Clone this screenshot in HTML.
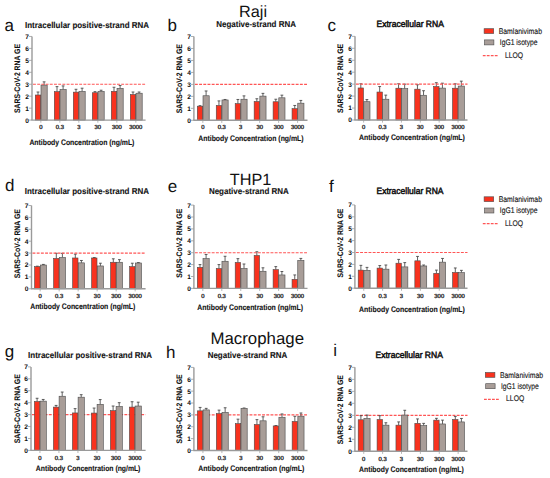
<!DOCTYPE html>
<html><head><meta charset="utf-8"><style>
html,body{margin:0;padding:0;background:#fff;width:550px;height:478px;overflow:hidden}
svg{display:block}
text{font-family:"Liberation Sans", sans-serif;text-rendering:geometricPrecision}
</style></head><body>
<svg width="550" height="478" viewBox="0 0 550 478">
<rect width="550" height="478" fill="#fff"/>
<g>
<line x1="38.00" y1="92.02" x2="38.00" y2="95.00" stroke="#505050" stroke-width="0.9"/>
<line x1="36.60" y1="92.02" x2="39.40" y2="92.02" stroke="#4a4a4a" stroke-width="0.9"/>
<line x1="44.10" y1="81.86" x2="44.10" y2="85.09" stroke="#505050" stroke-width="0.9"/>
<line x1="42.70" y1="81.86" x2="45.50" y2="81.86" stroke="#4a4a4a" stroke-width="0.9"/>
<rect x="35.30" y="95.00" width="5.4" height="25.09" fill="#f8321e" stroke="#4a4a4a" stroke-width="0.6"/>
<rect x="41.00" y="85.09" width="6.2" height="35.01" fill="#a89d98" stroke="#4a4a4a" stroke-width="0.6"/>
<line x1="40.85" y1="120.10" x2="40.85" y2="122.70" stroke="#9a9a9a" stroke-width="0.7"/>
<text x="40.85" y="129.40" font-size="5.9" stroke="#111" stroke-width="0.3" text-anchor="middle" fill="#111">0</text>
<line x1="57.00" y1="86.64" x2="57.00" y2="91.66" stroke="#505050" stroke-width="0.9"/>
<line x1="55.60" y1="86.64" x2="58.40" y2="86.64" stroke="#4a4a4a" stroke-width="0.9"/>
<line x1="63.10" y1="85.92" x2="63.10" y2="89.51" stroke="#505050" stroke-width="0.9"/>
<line x1="61.70" y1="85.92" x2="64.50" y2="85.92" stroke="#4a4a4a" stroke-width="0.9"/>
<rect x="54.30" y="91.66" width="5.4" height="28.44" fill="#f8321e" stroke="#4a4a4a" stroke-width="0.6"/>
<rect x="60.00" y="89.51" width="6.2" height="30.59" fill="#a89d98" stroke="#4a4a4a" stroke-width="0.6"/>
<line x1="59.85" y1="120.10" x2="59.85" y2="122.70" stroke="#9a9a9a" stroke-width="0.7"/>
<text x="59.85" y="129.40" font-size="5.9" stroke="#111" stroke-width="0.3" text-anchor="middle" fill="#111">0.3</text>
<line x1="76.00" y1="89.27" x2="76.00" y2="92.14" stroke="#505050" stroke-width="0.9"/>
<line x1="74.60" y1="89.27" x2="77.40" y2="89.27" stroke="#4a4a4a" stroke-width="0.9"/>
<line x1="82.10" y1="88.19" x2="82.10" y2="91.42" stroke="#505050" stroke-width="0.9"/>
<line x1="80.70" y1="88.19" x2="83.50" y2="88.19" stroke="#4a4a4a" stroke-width="0.9"/>
<rect x="73.30" y="92.14" width="5.4" height="27.96" fill="#f8321e" stroke="#4a4a4a" stroke-width="0.6"/>
<rect x="79.00" y="91.42" width="6.2" height="28.68" fill="#a89d98" stroke="#4a4a4a" stroke-width="0.6"/>
<line x1="78.85" y1="120.10" x2="78.85" y2="122.70" stroke="#9a9a9a" stroke-width="0.7"/>
<text x="78.85" y="129.40" font-size="5.9" stroke="#111" stroke-width="0.3" text-anchor="middle" fill="#111">3</text>
<line x1="95.00" y1="91.66" x2="95.00" y2="92.73" stroke="#505050" stroke-width="0.9"/>
<line x1="93.60" y1="91.66" x2="96.40" y2="91.66" stroke="#4a4a4a" stroke-width="0.9"/>
<line x1="101.10" y1="90.22" x2="101.10" y2="91.42" stroke="#505050" stroke-width="0.9"/>
<line x1="99.70" y1="90.22" x2="102.50" y2="90.22" stroke="#4a4a4a" stroke-width="0.9"/>
<rect x="92.30" y="92.73" width="5.4" height="27.37" fill="#f8321e" stroke="#4a4a4a" stroke-width="0.6"/>
<rect x="98.00" y="91.42" width="6.2" height="28.68" fill="#a89d98" stroke="#4a4a4a" stroke-width="0.6"/>
<line x1="97.85" y1="120.10" x2="97.85" y2="122.70" stroke="#9a9a9a" stroke-width="0.7"/>
<text x="97.85" y="129.40" font-size="5.9" stroke="#111" stroke-width="0.3" text-anchor="middle" fill="#111">30</text>
<line x1="114.00" y1="87.24" x2="114.00" y2="91.30" stroke="#505050" stroke-width="0.9"/>
<line x1="112.60" y1="87.24" x2="115.40" y2="87.24" stroke="#4a4a4a" stroke-width="0.9"/>
<line x1="120.10" y1="85.44" x2="120.10" y2="88.31" stroke="#505050" stroke-width="0.9"/>
<line x1="118.70" y1="85.44" x2="121.50" y2="85.44" stroke="#4a4a4a" stroke-width="0.9"/>
<rect x="111.30" y="91.30" width="5.4" height="28.80" fill="#f8321e" stroke="#4a4a4a" stroke-width="0.6"/>
<rect x="117.00" y="88.31" width="6.2" height="31.79" fill="#a89d98" stroke="#4a4a4a" stroke-width="0.6"/>
<line x1="116.85" y1="120.10" x2="116.85" y2="122.70" stroke="#9a9a9a" stroke-width="0.7"/>
<text x="116.85" y="129.40" font-size="5.9" stroke="#111" stroke-width="0.3" text-anchor="middle" fill="#111">300</text>
<line x1="133.00" y1="92.02" x2="133.00" y2="94.53" stroke="#505050" stroke-width="0.9"/>
<line x1="131.60" y1="92.02" x2="134.40" y2="92.02" stroke="#4a4a4a" stroke-width="0.9"/>
<line x1="139.10" y1="92.02" x2="139.10" y2="93.21" stroke="#505050" stroke-width="0.9"/>
<line x1="137.70" y1="92.02" x2="140.50" y2="92.02" stroke="#4a4a4a" stroke-width="0.9"/>
<rect x="130.30" y="94.53" width="5.4" height="25.57" fill="#f8321e" stroke="#4a4a4a" stroke-width="0.6"/>
<rect x="136.00" y="93.21" width="6.2" height="26.89" fill="#a89d98" stroke="#4a4a4a" stroke-width="0.6"/>
<line x1="135.85" y1="120.10" x2="135.85" y2="122.70" stroke="#9a9a9a" stroke-width="0.7"/>
<text x="135.85" y="129.40" font-size="5.9" stroke="#111" stroke-width="0.3" text-anchor="middle" fill="#111">3000</text>
<line x1="33.00" y1="84.25" x2="145.60" y2="84.25" stroke="#ff5555" stroke-width="1.1" stroke-dasharray="2.9 1.3"/>
<line x1="32.00" y1="36.45" x2="32.00" y2="120.10" stroke="#9a9a9a" stroke-width="1.4"/>
<line x1="31.40" y1="120.10" x2="145.60" y2="120.10" stroke="#9a9a9a" stroke-width="1.4"/>
<line x1="29.00" y1="120.10" x2="32.00" y2="120.10" stroke="#9a9a9a" stroke-width="0.8"/>
<text x="29.00" y="122.50" font-size="6.6" font-weight="bold" text-anchor="end" fill="#111">0</text>
<line x1="29.00" y1="108.15" x2="32.00" y2="108.15" stroke="#9a9a9a" stroke-width="0.8"/>
<text x="29.00" y="110.55" font-size="6.6" font-weight="bold" text-anchor="end" fill="#111">1</text>
<line x1="29.00" y1="96.20" x2="32.00" y2="96.20" stroke="#9a9a9a" stroke-width="0.8"/>
<text x="29.00" y="98.60" font-size="6.6" font-weight="bold" text-anchor="end" fill="#111">2</text>
<line x1="29.00" y1="84.25" x2="32.00" y2="84.25" stroke="#9a9a9a" stroke-width="0.8"/>
<text x="29.00" y="86.65" font-size="6.6" font-weight="bold" text-anchor="end" fill="#111">3</text>
<line x1="29.00" y1="72.30" x2="32.00" y2="72.30" stroke="#9a9a9a" stroke-width="0.8"/>
<text x="29.00" y="74.70" font-size="6.6" font-weight="bold" text-anchor="end" fill="#111">4</text>
<line x1="29.00" y1="60.35" x2="32.00" y2="60.35" stroke="#9a9a9a" stroke-width="0.8"/>
<text x="29.00" y="62.75" font-size="6.6" font-weight="bold" text-anchor="end" fill="#111">5</text>
<line x1="29.00" y1="48.40" x2="32.00" y2="48.40" stroke="#9a9a9a" stroke-width="0.8"/>
<text x="29.00" y="50.80" font-size="6.6" font-weight="bold" text-anchor="end" fill="#111">6</text>
<line x1="29.00" y1="36.45" x2="32.00" y2="36.45" stroke="#9a9a9a" stroke-width="0.8"/>
<text x="29.00" y="38.85" font-size="6.6" font-weight="bold" text-anchor="end" fill="#111">7</text>
<text transform="translate(19.70,78.50) rotate(-90)" x="0" y="0" font-size="8.0" font-weight="bold" stroke="#111" stroke-width="0.1" text-anchor="middle" textLength="69" lengthAdjust="spacingAndGlyphs" fill="#111">SARS-CoV-2 RNA GE</text>
<text x="25.0" y="27.7" font-size="8.5" font-weight="bold" stroke="#111" stroke-width="0.1" textLength="124" lengthAdjust="spacingAndGlyphs" fill="#111">Intracellular positive-strand RNA</text>
<text x="4.4" y="31.0" font-size="17" fill="#111">a</text>
<text x="29.4" y="144.5" font-size="8.0" font-weight="bold" stroke="#111" stroke-width="0.12" textLength="105.0" lengthAdjust="spacingAndGlyphs" fill="#111">Antibody Concentration (ng/mL)</text>
</g>
<g>
<line x1="200.00" y1="105.70" x2="200.00" y2="106.18" stroke="#505050" stroke-width="0.9"/>
<line x1="198.60" y1="105.70" x2="201.40" y2="105.70" stroke="#4a4a4a" stroke-width="0.9"/>
<line x1="206.10" y1="90.97" x2="206.10" y2="95.76" stroke="#505050" stroke-width="0.9"/>
<line x1="204.70" y1="90.97" x2="207.50" y2="90.97" stroke="#4a4a4a" stroke-width="0.9"/>
<rect x="197.30" y="106.18" width="5.4" height="14.12" fill="#f8321e" stroke="#4a4a4a" stroke-width="0.6"/>
<rect x="203.00" y="95.76" width="6.2" height="24.54" fill="#a89d98" stroke="#4a4a4a" stroke-width="0.6"/>
<line x1="202.85" y1="120.30" x2="202.85" y2="122.90" stroke="#9a9a9a" stroke-width="0.7"/>
<text x="202.85" y="129.20" font-size="5.9" stroke="#111" stroke-width="0.3" text-anchor="middle" fill="#111">0</text>
<line x1="218.95" y1="100.91" x2="218.95" y2="105.46" stroke="#505050" stroke-width="0.9"/>
<line x1="217.55" y1="100.91" x2="220.35" y2="100.91" stroke="#4a4a4a" stroke-width="0.9"/>
<line x1="225.05" y1="99.47" x2="225.05" y2="99.95" stroke="#505050" stroke-width="0.9"/>
<line x1="223.65" y1="99.47" x2="226.45" y2="99.47" stroke="#4a4a4a" stroke-width="0.9"/>
<rect x="216.25" y="105.46" width="5.4" height="14.84" fill="#f8321e" stroke="#4a4a4a" stroke-width="0.6"/>
<rect x="221.95" y="99.95" width="6.2" height="20.35" fill="#a89d98" stroke="#4a4a4a" stroke-width="0.6"/>
<line x1="221.80" y1="120.30" x2="221.80" y2="122.90" stroke="#9a9a9a" stroke-width="0.7"/>
<text x="221.80" y="129.20" font-size="5.9" stroke="#111" stroke-width="0.3" text-anchor="middle" fill="#111">0.3</text>
<line x1="237.90" y1="99.47" x2="237.90" y2="103.66" stroke="#505050" stroke-width="0.9"/>
<line x1="236.50" y1="99.47" x2="239.30" y2="99.47" stroke="#4a4a4a" stroke-width="0.9"/>
<line x1="244.00" y1="95.88" x2="244.00" y2="99.23" stroke="#505050" stroke-width="0.9"/>
<line x1="242.60" y1="95.88" x2="245.40" y2="95.88" stroke="#4a4a4a" stroke-width="0.9"/>
<rect x="235.20" y="103.66" width="5.4" height="16.64" fill="#f8321e" stroke="#4a4a4a" stroke-width="0.6"/>
<rect x="240.90" y="99.23" width="6.2" height="21.07" fill="#a89d98" stroke="#4a4a4a" stroke-width="0.6"/>
<line x1="240.75" y1="120.30" x2="240.75" y2="122.90" stroke="#9a9a9a" stroke-width="0.7"/>
<text x="240.75" y="129.20" font-size="5.9" stroke="#111" stroke-width="0.3" text-anchor="middle" fill="#111">3</text>
<line x1="256.85" y1="98.75" x2="256.85" y2="101.51" stroke="#505050" stroke-width="0.9"/>
<line x1="255.45" y1="98.75" x2="258.25" y2="98.75" stroke="#4a4a4a" stroke-width="0.9"/>
<line x1="262.95" y1="93.37" x2="262.95" y2="96.12" stroke="#505050" stroke-width="0.9"/>
<line x1="261.55" y1="93.37" x2="264.35" y2="93.37" stroke="#4a4a4a" stroke-width="0.9"/>
<rect x="254.15" y="101.51" width="5.4" height="18.79" fill="#f8321e" stroke="#4a4a4a" stroke-width="0.6"/>
<rect x="259.85" y="96.12" width="6.2" height="24.18" fill="#a89d98" stroke="#4a4a4a" stroke-width="0.6"/>
<line x1="259.70" y1="120.30" x2="259.70" y2="122.90" stroke="#9a9a9a" stroke-width="0.7"/>
<text x="259.70" y="129.20" font-size="5.9" stroke="#111" stroke-width="0.3" text-anchor="middle" fill="#111">30</text>
<line x1="275.80" y1="99.23" x2="275.80" y2="101.75" stroke="#505050" stroke-width="0.9"/>
<line x1="274.40" y1="99.23" x2="277.20" y2="99.23" stroke="#4a4a4a" stroke-width="0.9"/>
<line x1="281.90" y1="95.16" x2="281.90" y2="97.80" stroke="#505050" stroke-width="0.9"/>
<line x1="280.50" y1="95.16" x2="283.30" y2="95.16" stroke="#4a4a4a" stroke-width="0.9"/>
<rect x="273.10" y="101.75" width="5.4" height="18.55" fill="#f8321e" stroke="#4a4a4a" stroke-width="0.6"/>
<rect x="278.80" y="97.80" width="6.2" height="22.50" fill="#a89d98" stroke="#4a4a4a" stroke-width="0.6"/>
<line x1="278.65" y1="120.30" x2="278.65" y2="122.90" stroke="#9a9a9a" stroke-width="0.7"/>
<text x="278.65" y="129.20" font-size="5.9" stroke="#111" stroke-width="0.3" text-anchor="middle" fill="#111">300</text>
<line x1="294.75" y1="105.46" x2="294.75" y2="108.69" stroke="#505050" stroke-width="0.9"/>
<line x1="293.35" y1="105.46" x2="296.15" y2="105.46" stroke="#4a4a4a" stroke-width="0.9"/>
<line x1="300.85" y1="100.43" x2="300.85" y2="103.18" stroke="#505050" stroke-width="0.9"/>
<line x1="299.45" y1="100.43" x2="302.25" y2="100.43" stroke="#4a4a4a" stroke-width="0.9"/>
<rect x="292.05" y="108.69" width="5.4" height="11.61" fill="#f8321e" stroke="#4a4a4a" stroke-width="0.6"/>
<rect x="297.75" y="103.18" width="6.2" height="17.12" fill="#a89d98" stroke="#4a4a4a" stroke-width="0.6"/>
<line x1="297.60" y1="120.30" x2="297.60" y2="122.90" stroke="#9a9a9a" stroke-width="0.7"/>
<text x="297.60" y="129.20" font-size="5.9" stroke="#111" stroke-width="0.3" text-anchor="middle" fill="#111">3000</text>
<line x1="194.90" y1="84.39" x2="307.50" y2="84.39" stroke="#ff5555" stroke-width="1.1" stroke-dasharray="2.9 1.3"/>
<line x1="193.90" y1="36.51" x2="193.90" y2="120.30" stroke="#9a9a9a" stroke-width="1.4"/>
<line x1="193.30" y1="120.30" x2="307.50" y2="120.30" stroke="#9a9a9a" stroke-width="1.4"/>
<line x1="190.90" y1="120.30" x2="193.90" y2="120.30" stroke="#9a9a9a" stroke-width="0.8"/>
<text x="190.90" y="122.70" font-size="6.6" font-weight="bold" text-anchor="end" fill="#111">0</text>
<line x1="190.90" y1="108.33" x2="193.90" y2="108.33" stroke="#9a9a9a" stroke-width="0.8"/>
<text x="190.90" y="110.73" font-size="6.6" font-weight="bold" text-anchor="end" fill="#111">1</text>
<line x1="190.90" y1="96.36" x2="193.90" y2="96.36" stroke="#9a9a9a" stroke-width="0.8"/>
<text x="190.90" y="98.76" font-size="6.6" font-weight="bold" text-anchor="end" fill="#111">2</text>
<line x1="190.90" y1="84.39" x2="193.90" y2="84.39" stroke="#9a9a9a" stroke-width="0.8"/>
<text x="190.90" y="86.79" font-size="6.6" font-weight="bold" text-anchor="end" fill="#111">3</text>
<line x1="190.90" y1="72.42" x2="193.90" y2="72.42" stroke="#9a9a9a" stroke-width="0.8"/>
<text x="190.90" y="74.82" font-size="6.6" font-weight="bold" text-anchor="end" fill="#111">4</text>
<line x1="190.90" y1="60.45" x2="193.90" y2="60.45" stroke="#9a9a9a" stroke-width="0.8"/>
<text x="190.90" y="62.85" font-size="6.6" font-weight="bold" text-anchor="end" fill="#111">5</text>
<line x1="190.90" y1="48.48" x2="193.90" y2="48.48" stroke="#9a9a9a" stroke-width="0.8"/>
<text x="190.90" y="50.88" font-size="6.6" font-weight="bold" text-anchor="end" fill="#111">6</text>
<line x1="190.90" y1="36.51" x2="193.90" y2="36.51" stroke="#9a9a9a" stroke-width="0.8"/>
<text x="190.90" y="38.91" font-size="6.6" font-weight="bold" text-anchor="end" fill="#111">7</text>
<text transform="translate(181.90,78.70) rotate(-90)" x="0" y="0" font-size="8.0" font-weight="bold" stroke="#111" stroke-width="0.1" text-anchor="middle" textLength="69" lengthAdjust="spacingAndGlyphs" fill="#111">SARS-CoV-2 RNA GE</text>
<text x="216.3" y="27.4" font-size="8.5" font-weight="bold" stroke="#111" stroke-width="0.1" textLength="79.6" lengthAdjust="spacingAndGlyphs" fill="#111">Negative-strand RNA</text>
<text x="167.6" y="30.7" font-size="17" fill="#111">b</text>
<text x="198.3" y="141.0" font-size="8.0" font-weight="bold" stroke="#111" stroke-width="0.12" textLength="105.2" lengthAdjust="spacingAndGlyphs" fill="#111">Antibody Concentration (ng/mL)</text>
</g>
<g>
<line x1="360.80" y1="83.79" x2="360.80" y2="87.97" stroke="#505050" stroke-width="0.9"/>
<line x1="359.40" y1="83.79" x2="362.20" y2="83.79" stroke="#4a4a4a" stroke-width="0.9"/>
<line x1="366.90" y1="99.57" x2="366.90" y2="101.72" stroke="#505050" stroke-width="0.9"/>
<line x1="365.50" y1="99.57" x2="368.30" y2="99.57" stroke="#4a4a4a" stroke-width="0.9"/>
<rect x="358.10" y="87.97" width="5.4" height="32.03" fill="#f8321e" stroke="#4a4a4a" stroke-width="0.6"/>
<rect x="363.80" y="101.72" width="6.2" height="18.28" fill="#a89d98" stroke="#4a4a4a" stroke-width="0.6"/>
<line x1="363.65" y1="120.00" x2="363.65" y2="122.60" stroke="#9a9a9a" stroke-width="0.7"/>
<text x="363.65" y="129.00" font-size="5.9" stroke="#111" stroke-width="0.3" text-anchor="middle" fill="#111">0</text>
<line x1="379.68" y1="86.54" x2="379.68" y2="92.04" stroke="#505050" stroke-width="0.9"/>
<line x1="378.28" y1="86.54" x2="381.08" y2="86.54" stroke="#4a4a4a" stroke-width="0.9"/>
<line x1="385.78" y1="95.14" x2="385.78" y2="99.21" stroke="#505050" stroke-width="0.9"/>
<line x1="384.38" y1="95.14" x2="387.18" y2="95.14" stroke="#4a4a4a" stroke-width="0.9"/>
<rect x="376.98" y="92.04" width="5.4" height="27.96" fill="#f8321e" stroke="#4a4a4a" stroke-width="0.6"/>
<rect x="382.68" y="99.21" width="6.2" height="20.79" fill="#a89d98" stroke="#4a4a4a" stroke-width="0.6"/>
<line x1="382.53" y1="120.00" x2="382.53" y2="122.60" stroke="#9a9a9a" stroke-width="0.7"/>
<text x="382.53" y="129.00" font-size="5.9" stroke="#111" stroke-width="0.3" text-anchor="middle" fill="#111">0.3</text>
<line x1="398.56" y1="83.79" x2="398.56" y2="88.21" stroke="#505050" stroke-width="0.9"/>
<line x1="397.16" y1="83.79" x2="399.96" y2="83.79" stroke="#4a4a4a" stroke-width="0.9"/>
<line x1="404.66" y1="84.15" x2="404.66" y2="88.69" stroke="#505050" stroke-width="0.9"/>
<line x1="403.26" y1="84.15" x2="406.06" y2="84.15" stroke="#4a4a4a" stroke-width="0.9"/>
<rect x="395.86" y="88.21" width="5.4" height="31.79" fill="#f8321e" stroke="#4a4a4a" stroke-width="0.6"/>
<rect x="401.56" y="88.69" width="6.2" height="31.31" fill="#a89d98" stroke="#4a4a4a" stroke-width="0.6"/>
<line x1="401.41" y1="120.00" x2="401.41" y2="122.60" stroke="#9a9a9a" stroke-width="0.7"/>
<text x="401.41" y="129.00" font-size="5.9" stroke="#111" stroke-width="0.3" text-anchor="middle" fill="#111">3</text>
<line x1="417.44" y1="84.75" x2="417.44" y2="89.17" stroke="#505050" stroke-width="0.9"/>
<line x1="416.04" y1="84.75" x2="418.84" y2="84.75" stroke="#4a4a4a" stroke-width="0.9"/>
<line x1="423.54" y1="90.72" x2="423.54" y2="95.26" stroke="#505050" stroke-width="0.9"/>
<line x1="422.14" y1="90.72" x2="424.94" y2="90.72" stroke="#4a4a4a" stroke-width="0.9"/>
<rect x="414.74" y="89.17" width="5.4" height="30.83" fill="#f8321e" stroke="#4a4a4a" stroke-width="0.6"/>
<rect x="420.44" y="95.26" width="6.2" height="24.74" fill="#a89d98" stroke="#4a4a4a" stroke-width="0.6"/>
<line x1="420.29" y1="120.00" x2="420.29" y2="122.60" stroke="#9a9a9a" stroke-width="0.7"/>
<text x="420.29" y="129.00" font-size="5.9" stroke="#111" stroke-width="0.3" text-anchor="middle" fill="#111">30</text>
<line x1="436.32" y1="82.72" x2="436.32" y2="86.54" stroke="#505050" stroke-width="0.9"/>
<line x1="434.92" y1="82.72" x2="437.72" y2="82.72" stroke="#4a4a4a" stroke-width="0.9"/>
<line x1="442.42" y1="83.19" x2="442.42" y2="88.09" stroke="#505050" stroke-width="0.9"/>
<line x1="441.02" y1="83.19" x2="443.82" y2="83.19" stroke="#4a4a4a" stroke-width="0.9"/>
<rect x="433.62" y="86.54" width="5.4" height="33.46" fill="#f8321e" stroke="#4a4a4a" stroke-width="0.6"/>
<rect x="439.32" y="88.09" width="6.2" height="31.91" fill="#a89d98" stroke="#4a4a4a" stroke-width="0.6"/>
<line x1="439.17" y1="120.00" x2="439.17" y2="122.60" stroke="#9a9a9a" stroke-width="0.7"/>
<text x="439.17" y="129.00" font-size="5.9" stroke="#111" stroke-width="0.3" text-anchor="middle" fill="#111">300</text>
<line x1="455.20" y1="83.79" x2="455.20" y2="88.21" stroke="#505050" stroke-width="0.9"/>
<line x1="453.80" y1="83.79" x2="456.60" y2="83.79" stroke="#4a4a4a" stroke-width="0.9"/>
<line x1="461.30" y1="81.16" x2="461.30" y2="86.06" stroke="#505050" stroke-width="0.9"/>
<line x1="459.90" y1="81.16" x2="462.70" y2="81.16" stroke="#4a4a4a" stroke-width="0.9"/>
<rect x="452.50" y="88.21" width="5.4" height="31.79" fill="#f8321e" stroke="#4a4a4a" stroke-width="0.6"/>
<rect x="458.20" y="86.06" width="6.2" height="33.94" fill="#a89d98" stroke="#4a4a4a" stroke-width="0.6"/>
<line x1="458.05" y1="120.00" x2="458.05" y2="122.60" stroke="#9a9a9a" stroke-width="0.7"/>
<text x="458.05" y="129.00" font-size="5.9" stroke="#111" stroke-width="0.3" text-anchor="middle" fill="#111">3000</text>
<line x1="356.00" y1="84.15" x2="467.50" y2="84.15" stroke="#ff5555" stroke-width="1.1" stroke-dasharray="2.9 1.3"/>
<line x1="355.00" y1="36.35" x2="355.00" y2="120.00" stroke="#9a9a9a" stroke-width="1.4"/>
<line x1="354.40" y1="120.00" x2="467.50" y2="120.00" stroke="#9a9a9a" stroke-width="1.4"/>
<line x1="352.00" y1="120.00" x2="355.00" y2="120.00" stroke="#9a9a9a" stroke-width="0.8"/>
<text x="352.00" y="122.40" font-size="6.6" font-weight="bold" text-anchor="end" fill="#111">0</text>
<line x1="352.00" y1="108.05" x2="355.00" y2="108.05" stroke="#9a9a9a" stroke-width="0.8"/>
<text x="352.00" y="110.45" font-size="6.6" font-weight="bold" text-anchor="end" fill="#111">1</text>
<line x1="352.00" y1="96.10" x2="355.00" y2="96.10" stroke="#9a9a9a" stroke-width="0.8"/>
<text x="352.00" y="98.50" font-size="6.6" font-weight="bold" text-anchor="end" fill="#111">2</text>
<line x1="352.00" y1="84.15" x2="355.00" y2="84.15" stroke="#9a9a9a" stroke-width="0.8"/>
<text x="352.00" y="86.55" font-size="6.6" font-weight="bold" text-anchor="end" fill="#111">3</text>
<line x1="352.00" y1="72.20" x2="355.00" y2="72.20" stroke="#9a9a9a" stroke-width="0.8"/>
<text x="352.00" y="74.60" font-size="6.6" font-weight="bold" text-anchor="end" fill="#111">4</text>
<line x1="352.00" y1="60.25" x2="355.00" y2="60.25" stroke="#9a9a9a" stroke-width="0.8"/>
<text x="352.00" y="62.65" font-size="6.6" font-weight="bold" text-anchor="end" fill="#111">5</text>
<line x1="352.00" y1="48.30" x2="355.00" y2="48.30" stroke="#9a9a9a" stroke-width="0.8"/>
<text x="352.00" y="50.70" font-size="6.6" font-weight="bold" text-anchor="end" fill="#111">6</text>
<line x1="352.00" y1="36.35" x2="355.00" y2="36.35" stroke="#9a9a9a" stroke-width="0.8"/>
<text x="352.00" y="38.75" font-size="6.6" font-weight="bold" text-anchor="end" fill="#111">7</text>
<text transform="translate(342.90,78.40) rotate(-90)" x="0" y="0" font-size="8.0" font-weight="bold" stroke="#111" stroke-width="0.1" text-anchor="middle" textLength="69" lengthAdjust="spacingAndGlyphs" fill="#111">SARS-CoV-2 RNA GE</text>
<text x="376.5" y="26.8" font-size="9.2" stroke="#111" stroke-width="0.5" textLength="67.4" lengthAdjust="spacingAndGlyphs" fill="#111">Extracellular RNA</text>
<text x="327.6" y="31.1" font-size="17" fill="#111">c</text>
<text x="359.1" y="140.1" font-size="8.0" font-weight="bold" stroke="#111" stroke-width="0.12" textLength="105.7" lengthAdjust="spacingAndGlyphs" fill="#111">Antibody Concentration (ng/mL)</text>
</g>
<g>
<line x1="37.30" y1="266.19" x2="37.30" y2="266.67" stroke="#505050" stroke-width="0.9"/>
<line x1="35.90" y1="266.19" x2="38.70" y2="266.19" stroke="#4a4a4a" stroke-width="0.9"/>
<line x1="43.40" y1="264.41" x2="43.40" y2="265.00" stroke="#505050" stroke-width="0.9"/>
<line x1="42.00" y1="264.41" x2="44.80" y2="264.41" stroke="#4a4a4a" stroke-width="0.9"/>
<rect x="34.60" y="266.67" width="5.4" height="22.13" fill="#f8321e" stroke="#4a4a4a" stroke-width="0.6"/>
<rect x="40.30" y="265.00" width="6.2" height="23.80" fill="#a89d98" stroke="#4a4a4a" stroke-width="0.6"/>
<line x1="40.15" y1="288.80" x2="40.15" y2="291.40" stroke="#9a9a9a" stroke-width="0.7"/>
<text x="40.15" y="298.40" font-size="5.9" stroke="#111" stroke-width="0.3" text-anchor="middle" fill="#111">0</text>
<line x1="56.30" y1="253.34" x2="56.30" y2="258.46" stroke="#505050" stroke-width="0.9"/>
<line x1="54.90" y1="253.34" x2="57.70" y2="253.34" stroke="#4a4a4a" stroke-width="0.9"/>
<line x1="62.40" y1="253.34" x2="62.40" y2="257.50" stroke="#505050" stroke-width="0.9"/>
<line x1="61.00" y1="253.34" x2="63.80" y2="253.34" stroke="#4a4a4a" stroke-width="0.9"/>
<rect x="53.60" y="258.46" width="5.4" height="30.34" fill="#f8321e" stroke="#4a4a4a" stroke-width="0.6"/>
<rect x="59.30" y="257.50" width="6.2" height="31.30" fill="#a89d98" stroke="#4a4a4a" stroke-width="0.6"/>
<line x1="59.15" y1="288.80" x2="59.15" y2="291.40" stroke="#9a9a9a" stroke-width="0.7"/>
<text x="59.15" y="298.40" font-size="5.9" stroke="#111" stroke-width="0.3" text-anchor="middle" fill="#111">0.3</text>
<line x1="75.30" y1="254.17" x2="75.30" y2="257.98" stroke="#505050" stroke-width="0.9"/>
<line x1="73.90" y1="254.17" x2="76.70" y2="254.17" stroke="#4a4a4a" stroke-width="0.9"/>
<line x1="81.40" y1="260.48" x2="81.40" y2="262.86" stroke="#505050" stroke-width="0.9"/>
<line x1="80.00" y1="260.48" x2="82.80" y2="260.48" stroke="#4a4a4a" stroke-width="0.9"/>
<rect x="72.60" y="257.98" width="5.4" height="30.82" fill="#f8321e" stroke="#4a4a4a" stroke-width="0.6"/>
<rect x="78.30" y="262.86" width="6.2" height="25.94" fill="#a89d98" stroke="#4a4a4a" stroke-width="0.6"/>
<line x1="78.15" y1="288.80" x2="78.15" y2="291.40" stroke="#9a9a9a" stroke-width="0.7"/>
<text x="78.15" y="298.40" font-size="5.9" stroke="#111" stroke-width="0.3" text-anchor="middle" fill="#111">3</text>
<line x1="94.30" y1="257.62" x2="94.30" y2="257.98" stroke="#505050" stroke-width="0.9"/>
<line x1="92.90" y1="257.62" x2="95.70" y2="257.62" stroke="#4a4a4a" stroke-width="0.9"/>
<line x1="100.40" y1="263.22" x2="100.40" y2="265.95" stroke="#505050" stroke-width="0.9"/>
<line x1="99.00" y1="263.22" x2="101.80" y2="263.22" stroke="#4a4a4a" stroke-width="0.9"/>
<rect x="91.60" y="257.98" width="5.4" height="30.82" fill="#f8321e" stroke="#4a4a4a" stroke-width="0.6"/>
<rect x="97.30" y="265.95" width="6.2" height="22.85" fill="#a89d98" stroke="#4a4a4a" stroke-width="0.6"/>
<line x1="97.15" y1="288.80" x2="97.15" y2="291.40" stroke="#9a9a9a" stroke-width="0.7"/>
<text x="97.15" y="298.40" font-size="5.9" stroke="#111" stroke-width="0.3" text-anchor="middle" fill="#111">30</text>
<line x1="113.30" y1="258.81" x2="113.30" y2="262.26" stroke="#505050" stroke-width="0.9"/>
<line x1="111.90" y1="258.81" x2="114.70" y2="258.81" stroke="#4a4a4a" stroke-width="0.9"/>
<line x1="119.40" y1="259.64" x2="119.40" y2="262.26" stroke="#505050" stroke-width="0.9"/>
<line x1="118.00" y1="259.64" x2="120.80" y2="259.64" stroke="#4a4a4a" stroke-width="0.9"/>
<rect x="110.60" y="262.26" width="5.4" height="26.54" fill="#f8321e" stroke="#4a4a4a" stroke-width="0.6"/>
<rect x="116.30" y="262.26" width="6.2" height="26.54" fill="#a89d98" stroke="#4a4a4a" stroke-width="0.6"/>
<line x1="116.15" y1="288.80" x2="116.15" y2="291.40" stroke="#9a9a9a" stroke-width="0.7"/>
<text x="116.15" y="298.40" font-size="5.9" stroke="#111" stroke-width="0.3" text-anchor="middle" fill="#111">300</text>
<line x1="132.30" y1="263.22" x2="132.30" y2="266.67" stroke="#505050" stroke-width="0.9"/>
<line x1="130.90" y1="263.22" x2="133.70" y2="263.22" stroke="#4a4a4a" stroke-width="0.9"/>
<line x1="138.40" y1="262.62" x2="138.40" y2="262.98" stroke="#505050" stroke-width="0.9"/>
<line x1="137.00" y1="262.62" x2="139.80" y2="262.62" stroke="#4a4a4a" stroke-width="0.9"/>
<rect x="129.60" y="266.67" width="5.4" height="22.13" fill="#f8321e" stroke="#4a4a4a" stroke-width="0.6"/>
<rect x="135.30" y="262.98" width="6.2" height="25.82" fill="#a89d98" stroke="#4a4a4a" stroke-width="0.6"/>
<line x1="135.15" y1="288.80" x2="135.15" y2="291.40" stroke="#9a9a9a" stroke-width="0.7"/>
<text x="135.15" y="298.40" font-size="5.9" stroke="#111" stroke-width="0.3" text-anchor="middle" fill="#111">3000</text>
<line x1="32.50" y1="253.10" x2="145.60" y2="253.10" stroke="#ff5555" stroke-width="1.1" stroke-dasharray="2.9 1.3"/>
<line x1="31.50" y1="205.50" x2="31.50" y2="288.80" stroke="#9a9a9a" stroke-width="1.4"/>
<line x1="30.90" y1="288.80" x2="145.60" y2="288.80" stroke="#9a9a9a" stroke-width="1.4"/>
<line x1="28.50" y1="288.80" x2="31.50" y2="288.80" stroke="#9a9a9a" stroke-width="0.8"/>
<text x="28.50" y="291.20" font-size="6.6" font-weight="bold" text-anchor="end" fill="#111">0</text>
<line x1="28.50" y1="276.90" x2="31.50" y2="276.90" stroke="#9a9a9a" stroke-width="0.8"/>
<text x="28.50" y="279.30" font-size="6.6" font-weight="bold" text-anchor="end" fill="#111">1</text>
<line x1="28.50" y1="265.00" x2="31.50" y2="265.00" stroke="#9a9a9a" stroke-width="0.8"/>
<text x="28.50" y="267.40" font-size="6.6" font-weight="bold" text-anchor="end" fill="#111">2</text>
<line x1="28.50" y1="253.10" x2="31.50" y2="253.10" stroke="#9a9a9a" stroke-width="0.8"/>
<text x="28.50" y="255.50" font-size="6.6" font-weight="bold" text-anchor="end" fill="#111">3</text>
<line x1="28.50" y1="241.20" x2="31.50" y2="241.20" stroke="#9a9a9a" stroke-width="0.8"/>
<text x="28.50" y="243.60" font-size="6.6" font-weight="bold" text-anchor="end" fill="#111">4</text>
<line x1="28.50" y1="229.30" x2="31.50" y2="229.30" stroke="#9a9a9a" stroke-width="0.8"/>
<text x="28.50" y="231.70" font-size="6.6" font-weight="bold" text-anchor="end" fill="#111">5</text>
<line x1="28.50" y1="217.40" x2="31.50" y2="217.40" stroke="#9a9a9a" stroke-width="0.8"/>
<text x="28.50" y="219.80" font-size="6.6" font-weight="bold" text-anchor="end" fill="#111">6</text>
<line x1="28.50" y1="205.50" x2="31.50" y2="205.50" stroke="#9a9a9a" stroke-width="0.8"/>
<text x="28.50" y="207.90" font-size="6.6" font-weight="bold" text-anchor="end" fill="#111">7</text>
<text transform="translate(19.70,243.70) rotate(-90)" x="0" y="0" font-size="8.0" font-weight="bold" stroke="#111" stroke-width="0.1" text-anchor="middle" textLength="69" lengthAdjust="spacingAndGlyphs" fill="#111">SARS-CoV-2 RNA GE</text>
<text x="24.7" y="194.0" font-size="8.5" font-weight="bold" stroke="#111" stroke-width="0.1" textLength="124.3" lengthAdjust="spacingAndGlyphs" fill="#111">Intracellular positive-strand RNA</text>
<text x="5.1" y="191.1" font-size="17" fill="#111">d</text>
<text x="30.2" y="309.2" font-size="8.0" font-weight="bold" stroke="#111" stroke-width="0.12" textLength="105.1" lengthAdjust="spacingAndGlyphs" fill="#111">Antibody Concentration (ng/mL)</text>
</g>
<g>
<line x1="200.00" y1="264.60" x2="200.00" y2="267.34" stroke="#505050" stroke-width="0.9"/>
<line x1="198.60" y1="264.60" x2="201.40" y2="264.60" stroke="#4a4a4a" stroke-width="0.9"/>
<line x1="206.10" y1="254.48" x2="206.10" y2="258.65" stroke="#505050" stroke-width="0.9"/>
<line x1="204.70" y1="254.48" x2="207.50" y2="254.48" stroke="#4a4a4a" stroke-width="0.9"/>
<rect x="197.30" y="267.34" width="5.4" height="21.06" fill="#f8321e" stroke="#4a4a4a" stroke-width="0.6"/>
<rect x="203.00" y="258.65" width="6.2" height="29.75" fill="#a89d98" stroke="#4a4a4a" stroke-width="0.6"/>
<line x1="202.85" y1="288.40" x2="202.85" y2="291.00" stroke="#9a9a9a" stroke-width="0.7"/>
<text x="202.85" y="298.40" font-size="5.9" stroke="#111" stroke-width="0.3" text-anchor="middle" fill="#111">0</text>
<line x1="218.95" y1="264.60" x2="218.95" y2="268.53" stroke="#505050" stroke-width="0.9"/>
<line x1="217.55" y1="264.60" x2="220.35" y2="264.60" stroke="#4a4a4a" stroke-width="0.9"/>
<line x1="225.05" y1="256.27" x2="225.05" y2="261.27" stroke="#505050" stroke-width="0.9"/>
<line x1="223.65" y1="256.27" x2="226.45" y2="256.27" stroke="#4a4a4a" stroke-width="0.9"/>
<rect x="216.25" y="268.53" width="5.4" height="19.87" fill="#f8321e" stroke="#4a4a4a" stroke-width="0.6"/>
<rect x="221.95" y="261.27" width="6.2" height="27.13" fill="#a89d98" stroke="#4a4a4a" stroke-width="0.6"/>
<line x1="221.80" y1="288.40" x2="221.80" y2="291.00" stroke="#9a9a9a" stroke-width="0.7"/>
<text x="221.80" y="298.40" font-size="5.9" stroke="#111" stroke-width="0.3" text-anchor="middle" fill="#111">0.3</text>
<line x1="237.90" y1="258.65" x2="237.90" y2="262.46" stroke="#505050" stroke-width="0.9"/>
<line x1="236.50" y1="258.65" x2="239.30" y2="258.65" stroke="#4a4a4a" stroke-width="0.9"/>
<line x1="244.00" y1="264.00" x2="244.00" y2="268.53" stroke="#505050" stroke-width="0.9"/>
<line x1="242.60" y1="264.00" x2="245.40" y2="264.00" stroke="#4a4a4a" stroke-width="0.9"/>
<rect x="235.20" y="262.46" width="5.4" height="25.94" fill="#f8321e" stroke="#4a4a4a" stroke-width="0.6"/>
<rect x="240.90" y="268.53" width="6.2" height="19.87" fill="#a89d98" stroke="#4a4a4a" stroke-width="0.6"/>
<line x1="240.75" y1="288.40" x2="240.75" y2="291.00" stroke="#9a9a9a" stroke-width="0.7"/>
<text x="240.75" y="298.40" font-size="5.9" stroke="#111" stroke-width="0.3" text-anchor="middle" fill="#111">3</text>
<line x1="256.85" y1="251.75" x2="256.85" y2="255.44" stroke="#505050" stroke-width="0.9"/>
<line x1="255.45" y1="251.75" x2="258.25" y2="251.75" stroke="#4a4a4a" stroke-width="0.9"/>
<line x1="262.95" y1="267.81" x2="262.95" y2="271.26" stroke="#505050" stroke-width="0.9"/>
<line x1="261.55" y1="267.81" x2="264.35" y2="267.81" stroke="#4a4a4a" stroke-width="0.9"/>
<rect x="254.15" y="255.44" width="5.4" height="32.96" fill="#f8321e" stroke="#4a4a4a" stroke-width="0.6"/>
<rect x="259.85" y="271.26" width="6.2" height="17.14" fill="#a89d98" stroke="#4a4a4a" stroke-width="0.6"/>
<line x1="259.70" y1="288.40" x2="259.70" y2="291.00" stroke="#9a9a9a" stroke-width="0.7"/>
<text x="259.70" y="298.40" font-size="5.9" stroke="#111" stroke-width="0.3" text-anchor="middle" fill="#111">30</text>
<line x1="275.80" y1="266.62" x2="275.80" y2="269.60" stroke="#505050" stroke-width="0.9"/>
<line x1="274.40" y1="266.62" x2="277.20" y2="266.62" stroke="#4a4a4a" stroke-width="0.9"/>
<line x1="281.90" y1="271.50" x2="281.90" y2="274.95" stroke="#505050" stroke-width="0.9"/>
<line x1="280.50" y1="271.50" x2="283.30" y2="271.50" stroke="#4a4a4a" stroke-width="0.9"/>
<rect x="273.10" y="269.60" width="5.4" height="18.80" fill="#f8321e" stroke="#4a4a4a" stroke-width="0.6"/>
<rect x="278.80" y="274.95" width="6.2" height="13.45" fill="#a89d98" stroke="#4a4a4a" stroke-width="0.6"/>
<line x1="278.65" y1="288.40" x2="278.65" y2="291.00" stroke="#9a9a9a" stroke-width="0.7"/>
<text x="278.65" y="298.40" font-size="5.9" stroke="#111" stroke-width="0.3" text-anchor="middle" fill="#111">300</text>
<line x1="294.75" y1="274.95" x2="294.75" y2="279.36" stroke="#505050" stroke-width="0.9"/>
<line x1="293.35" y1="274.95" x2="296.15" y2="274.95" stroke="#4a4a4a" stroke-width="0.9"/>
<line x1="300.85" y1="258.41" x2="300.85" y2="260.43" stroke="#505050" stroke-width="0.9"/>
<line x1="299.45" y1="258.41" x2="302.25" y2="258.41" stroke="#4a4a4a" stroke-width="0.9"/>
<rect x="292.05" y="279.36" width="5.4" height="9.04" fill="#f8321e" stroke="#4a4a4a" stroke-width="0.6"/>
<rect x="297.75" y="260.43" width="6.2" height="27.97" fill="#a89d98" stroke="#4a4a4a" stroke-width="0.6"/>
<line x1="297.60" y1="288.40" x2="297.60" y2="291.00" stroke="#9a9a9a" stroke-width="0.7"/>
<text x="297.60" y="298.40" font-size="5.9" stroke="#111" stroke-width="0.3" text-anchor="middle" fill="#111">3000</text>
<line x1="194.90" y1="252.70" x2="307.50" y2="252.70" stroke="#ff5555" stroke-width="1.1" stroke-dasharray="2.9 1.3"/>
<line x1="193.90" y1="205.10" x2="193.90" y2="288.40" stroke="#9a9a9a" stroke-width="1.4"/>
<line x1="193.30" y1="288.40" x2="307.50" y2="288.40" stroke="#9a9a9a" stroke-width="1.4"/>
<line x1="190.90" y1="288.40" x2="193.90" y2="288.40" stroke="#9a9a9a" stroke-width="0.8"/>
<text x="190.90" y="290.80" font-size="6.6" font-weight="bold" text-anchor="end" fill="#111">0</text>
<line x1="190.90" y1="276.50" x2="193.90" y2="276.50" stroke="#9a9a9a" stroke-width="0.8"/>
<text x="190.90" y="278.90" font-size="6.6" font-weight="bold" text-anchor="end" fill="#111">1</text>
<line x1="190.90" y1="264.60" x2="193.90" y2="264.60" stroke="#9a9a9a" stroke-width="0.8"/>
<text x="190.90" y="267.00" font-size="6.6" font-weight="bold" text-anchor="end" fill="#111">2</text>
<line x1="190.90" y1="252.70" x2="193.90" y2="252.70" stroke="#9a9a9a" stroke-width="0.8"/>
<text x="190.90" y="255.10" font-size="6.6" font-weight="bold" text-anchor="end" fill="#111">3</text>
<line x1="190.90" y1="240.80" x2="193.90" y2="240.80" stroke="#9a9a9a" stroke-width="0.8"/>
<text x="190.90" y="243.20" font-size="6.6" font-weight="bold" text-anchor="end" fill="#111">4</text>
<line x1="190.90" y1="228.90" x2="193.90" y2="228.90" stroke="#9a9a9a" stroke-width="0.8"/>
<text x="190.90" y="231.30" font-size="6.6" font-weight="bold" text-anchor="end" fill="#111">5</text>
<line x1="190.90" y1="217.00" x2="193.90" y2="217.00" stroke="#9a9a9a" stroke-width="0.8"/>
<text x="190.90" y="219.40" font-size="6.6" font-weight="bold" text-anchor="end" fill="#111">6</text>
<line x1="190.90" y1="205.10" x2="193.90" y2="205.10" stroke="#9a9a9a" stroke-width="0.8"/>
<text x="190.90" y="207.50" font-size="6.6" font-weight="bold" text-anchor="end" fill="#111">7</text>
<text transform="translate(181.90,243.30) rotate(-90)" x="0" y="0" font-size="8.0" font-weight="bold" stroke="#111" stroke-width="0.1" text-anchor="middle" textLength="69" lengthAdjust="spacingAndGlyphs" fill="#111">SARS-CoV-2 RNA GE</text>
<text x="208.9" y="193.5" font-size="8.5" font-weight="bold" stroke="#111" stroke-width="0.1" textLength="80" lengthAdjust="spacingAndGlyphs" fill="#111">Negative-strand RNA</text>
<text x="167.8" y="192.0" font-size="17" fill="#111">e</text>
<text x="197.3" y="309.9" font-size="8.0" font-weight="bold" stroke="#111" stroke-width="0.12" textLength="105.7" lengthAdjust="spacingAndGlyphs" fill="#111">Antibody Concentration (ng/mL)</text>
</g>
<g>
<line x1="360.90" y1="265.35" x2="360.90" y2="270.11" stroke="#505050" stroke-width="0.9"/>
<line x1="359.50" y1="265.35" x2="362.30" y2="265.35" stroke="#4a4a4a" stroke-width="0.9"/>
<line x1="367.00" y1="267.38" x2="367.00" y2="270.35" stroke="#505050" stroke-width="0.9"/>
<line x1="365.60" y1="267.38" x2="368.40" y2="267.38" stroke="#4a4a4a" stroke-width="0.9"/>
<rect x="358.20" y="270.11" width="5.4" height="18.09" fill="#f8321e" stroke="#4a4a4a" stroke-width="0.6"/>
<rect x="363.90" y="270.35" width="6.2" height="17.85" fill="#a89d98" stroke="#4a4a4a" stroke-width="0.6"/>
<line x1="363.75" y1="288.20" x2="363.75" y2="290.80" stroke="#9a9a9a" stroke-width="0.7"/>
<text x="363.75" y="298.00" font-size="5.9" stroke="#111" stroke-width="0.3" text-anchor="middle" fill="#111">0</text>
<line x1="379.78" y1="265.59" x2="379.78" y2="268.09" stroke="#505050" stroke-width="0.9"/>
<line x1="378.38" y1="265.59" x2="381.18" y2="265.59" stroke="#4a4a4a" stroke-width="0.9"/>
<line x1="385.88" y1="265.00" x2="385.88" y2="269.16" stroke="#505050" stroke-width="0.9"/>
<line x1="384.48" y1="265.00" x2="387.28" y2="265.00" stroke="#4a4a4a" stroke-width="0.9"/>
<rect x="377.08" y="268.09" width="5.4" height="20.11" fill="#f8321e" stroke="#4a4a4a" stroke-width="0.6"/>
<rect x="382.78" y="269.16" width="6.2" height="19.04" fill="#a89d98" stroke="#4a4a4a" stroke-width="0.6"/>
<line x1="382.63" y1="288.20" x2="382.63" y2="290.80" stroke="#9a9a9a" stroke-width="0.7"/>
<text x="382.63" y="298.00" font-size="5.9" stroke="#111" stroke-width="0.3" text-anchor="middle" fill="#111">0.3</text>
<line x1="398.66" y1="259.40" x2="398.66" y2="263.21" stroke="#505050" stroke-width="0.9"/>
<line x1="397.26" y1="259.40" x2="400.06" y2="259.40" stroke="#4a4a4a" stroke-width="0.9"/>
<line x1="404.76" y1="262.62" x2="404.76" y2="266.90" stroke="#505050" stroke-width="0.9"/>
<line x1="403.36" y1="262.62" x2="406.16" y2="262.62" stroke="#4a4a4a" stroke-width="0.9"/>
<rect x="395.96" y="263.21" width="5.4" height="24.99" fill="#f8321e" stroke="#4a4a4a" stroke-width="0.6"/>
<rect x="401.66" y="266.90" width="6.2" height="21.30" fill="#a89d98" stroke="#4a4a4a" stroke-width="0.6"/>
<line x1="401.51" y1="288.20" x2="401.51" y2="290.80" stroke="#9a9a9a" stroke-width="0.7"/>
<text x="401.51" y="298.00" font-size="5.9" stroke="#111" stroke-width="0.3" text-anchor="middle" fill="#111">3</text>
<line x1="417.54" y1="256.43" x2="417.54" y2="260.83" stroke="#505050" stroke-width="0.9"/>
<line x1="416.14" y1="256.43" x2="418.94" y2="256.43" stroke="#4a4a4a" stroke-width="0.9"/>
<line x1="423.64" y1="265.00" x2="423.64" y2="265.95" stroke="#505050" stroke-width="0.9"/>
<line x1="422.24" y1="265.00" x2="425.04" y2="265.00" stroke="#4a4a4a" stroke-width="0.9"/>
<rect x="414.84" y="260.83" width="5.4" height="27.37" fill="#f8321e" stroke="#4a4a4a" stroke-width="0.6"/>
<rect x="420.54" y="265.95" width="6.2" height="22.25" fill="#a89d98" stroke="#4a4a4a" stroke-width="0.6"/>
<line x1="420.39" y1="288.20" x2="420.39" y2="290.80" stroke="#9a9a9a" stroke-width="0.7"/>
<text x="420.39" y="298.00" font-size="5.9" stroke="#111" stroke-width="0.3" text-anchor="middle" fill="#111">30</text>
<line x1="436.42" y1="270.11" x2="436.42" y2="273.32" stroke="#505050" stroke-width="0.9"/>
<line x1="435.02" y1="270.11" x2="437.82" y2="270.11" stroke="#4a4a4a" stroke-width="0.9"/>
<line x1="442.52" y1="258.45" x2="442.52" y2="262.14" stroke="#505050" stroke-width="0.9"/>
<line x1="441.12" y1="258.45" x2="443.92" y2="258.45" stroke="#4a4a4a" stroke-width="0.9"/>
<rect x="433.72" y="273.32" width="5.4" height="14.88" fill="#f8321e" stroke="#4a4a4a" stroke-width="0.6"/>
<rect x="439.42" y="262.14" width="6.2" height="26.06" fill="#a89d98" stroke="#4a4a4a" stroke-width="0.6"/>
<line x1="439.27" y1="288.20" x2="439.27" y2="290.80" stroke="#9a9a9a" stroke-width="0.7"/>
<text x="439.27" y="298.00" font-size="5.9" stroke="#111" stroke-width="0.3" text-anchor="middle" fill="#111">300</text>
<line x1="455.30" y1="267.97" x2="455.30" y2="272.49" stroke="#505050" stroke-width="0.9"/>
<line x1="453.90" y1="267.97" x2="456.70" y2="267.97" stroke="#4a4a4a" stroke-width="0.9"/>
<line x1="461.40" y1="270.35" x2="461.40" y2="272.61" stroke="#505050" stroke-width="0.9"/>
<line x1="460.00" y1="270.35" x2="462.80" y2="270.35" stroke="#4a4a4a" stroke-width="0.9"/>
<rect x="452.60" y="272.49" width="5.4" height="15.71" fill="#f8321e" stroke="#4a4a4a" stroke-width="0.6"/>
<rect x="458.30" y="272.61" width="6.2" height="15.59" fill="#a89d98" stroke="#4a4a4a" stroke-width="0.6"/>
<line x1="458.15" y1="288.20" x2="458.15" y2="290.80" stroke="#9a9a9a" stroke-width="0.7"/>
<text x="458.15" y="298.00" font-size="5.9" stroke="#111" stroke-width="0.3" text-anchor="middle" fill="#111">3000</text>
<line x1="355.90" y1="252.50" x2="467.50" y2="252.50" stroke="#ff5555" stroke-width="1.1" stroke-dasharray="2.9 1.3"/>
<line x1="354.90" y1="204.90" x2="354.90" y2="288.20" stroke="#9a9a9a" stroke-width="1.4"/>
<line x1="354.30" y1="288.20" x2="467.50" y2="288.20" stroke="#9a9a9a" stroke-width="1.4"/>
<line x1="351.90" y1="288.20" x2="354.90" y2="288.20" stroke="#9a9a9a" stroke-width="0.8"/>
<text x="351.90" y="290.60" font-size="6.6" font-weight="bold" text-anchor="end" fill="#111">0</text>
<line x1="351.90" y1="276.30" x2="354.90" y2="276.30" stroke="#9a9a9a" stroke-width="0.8"/>
<text x="351.90" y="278.70" font-size="6.6" font-weight="bold" text-anchor="end" fill="#111">1</text>
<line x1="351.90" y1="264.40" x2="354.90" y2="264.40" stroke="#9a9a9a" stroke-width="0.8"/>
<text x="351.90" y="266.80" font-size="6.6" font-weight="bold" text-anchor="end" fill="#111">2</text>
<line x1="351.90" y1="252.50" x2="354.90" y2="252.50" stroke="#9a9a9a" stroke-width="0.8"/>
<text x="351.90" y="254.90" font-size="6.6" font-weight="bold" text-anchor="end" fill="#111">3</text>
<line x1="351.90" y1="240.60" x2="354.90" y2="240.60" stroke="#9a9a9a" stroke-width="0.8"/>
<text x="351.90" y="243.00" font-size="6.6" font-weight="bold" text-anchor="end" fill="#111">4</text>
<line x1="351.90" y1="228.70" x2="354.90" y2="228.70" stroke="#9a9a9a" stroke-width="0.8"/>
<text x="351.90" y="231.10" font-size="6.6" font-weight="bold" text-anchor="end" fill="#111">5</text>
<line x1="351.90" y1="216.80" x2="354.90" y2="216.80" stroke="#9a9a9a" stroke-width="0.8"/>
<text x="351.90" y="219.20" font-size="6.6" font-weight="bold" text-anchor="end" fill="#111">6</text>
<line x1="351.90" y1="204.90" x2="354.90" y2="204.90" stroke="#9a9a9a" stroke-width="0.8"/>
<text x="351.90" y="207.30" font-size="6.6" font-weight="bold" text-anchor="end" fill="#111">7</text>
<text transform="translate(342.90,243.10) rotate(-90)" x="0" y="0" font-size="8.0" font-weight="bold" stroke="#111" stroke-width="0.1" text-anchor="middle" textLength="69" lengthAdjust="spacingAndGlyphs" fill="#111">SARS-CoV-2 RNA GE</text>
<text x="376.5" y="194.2" font-size="9.2" stroke="#111" stroke-width="0.5" textLength="67" lengthAdjust="spacingAndGlyphs" fill="#111">Extracellular RNA</text>
<text x="328.9" y="191.6" font-size="17" fill="#111">f</text>
<text x="359.1" y="311.7" font-size="8.0" font-weight="bold" stroke="#111" stroke-width="0.12" textLength="105.7" lengthAdjust="spacingAndGlyphs" fill="#111">Antibody Concentration (ng/mL)</text>
</g>
<g>
<line x1="32.00" y1="414.61" x2="145.60" y2="414.61" stroke="#ff5555" stroke-width="1.1" stroke-dasharray="2.9 1.3"/>
<line x1="37.10" y1="398.27" x2="37.10" y2="401.49" stroke="#505050" stroke-width="0.9"/>
<line x1="35.70" y1="398.27" x2="38.50" y2="398.27" stroke="#4a4a4a" stroke-width="0.9"/>
<line x1="43.20" y1="399.46" x2="43.20" y2="401.13" stroke="#505050" stroke-width="0.9"/>
<line x1="41.80" y1="399.46" x2="44.60" y2="399.46" stroke="#4a4a4a" stroke-width="0.9"/>
<rect x="34.40" y="401.49" width="5.4" height="48.91" fill="#f8321e" stroke="#4a4a4a" stroke-width="0.6"/>
<rect x="40.10" y="401.13" width="6.2" height="49.27" fill="#a89d98" stroke="#4a4a4a" stroke-width="0.6"/>
<line x1="39.95" y1="450.40" x2="39.95" y2="453.00" stroke="#9a9a9a" stroke-width="0.7"/>
<text x="39.95" y="460.20" font-size="5.9" stroke="#111" stroke-width="0.3" text-anchor="middle" fill="#111">0</text>
<line x1="56.10" y1="405.42" x2="56.10" y2="407.09" stroke="#505050" stroke-width="0.9"/>
<line x1="54.70" y1="405.42" x2="57.50" y2="405.42" stroke="#4a4a4a" stroke-width="0.9"/>
<line x1="62.20" y1="392.06" x2="62.20" y2="396.24" stroke="#505050" stroke-width="0.9"/>
<line x1="60.80" y1="392.06" x2="63.60" y2="392.06" stroke="#4a4a4a" stroke-width="0.9"/>
<rect x="53.40" y="407.09" width="5.4" height="43.31" fill="#f8321e" stroke="#4a4a4a" stroke-width="0.6"/>
<rect x="59.10" y="396.24" width="6.2" height="54.16" fill="#a89d98" stroke="#4a4a4a" stroke-width="0.6"/>
<line x1="58.95" y1="450.40" x2="58.95" y2="453.00" stroke="#9a9a9a" stroke-width="0.7"/>
<text x="58.95" y="460.20" font-size="5.9" stroke="#111" stroke-width="0.3" text-anchor="middle" fill="#111">0.3</text>
<line x1="75.10" y1="408.64" x2="75.10" y2="412.94" stroke="#505050" stroke-width="0.9"/>
<line x1="73.70" y1="408.64" x2="76.50" y2="408.64" stroke="#4a4a4a" stroke-width="0.9"/>
<line x1="81.20" y1="394.69" x2="81.20" y2="397.19" stroke="#505050" stroke-width="0.9"/>
<line x1="79.80" y1="394.69" x2="82.60" y2="394.69" stroke="#4a4a4a" stroke-width="0.9"/>
<rect x="72.40" y="412.94" width="5.4" height="37.46" fill="#f8321e" stroke="#4a4a4a" stroke-width="0.6"/>
<rect x="78.10" y="397.19" width="6.2" height="53.21" fill="#a89d98" stroke="#4a4a4a" stroke-width="0.6"/>
<line x1="77.95" y1="450.40" x2="77.95" y2="453.00" stroke="#9a9a9a" stroke-width="0.7"/>
<text x="77.95" y="460.20" font-size="5.9" stroke="#111" stroke-width="0.3" text-anchor="middle" fill="#111">3</text>
<line x1="94.10" y1="408.05" x2="94.10" y2="413.06" stroke="#505050" stroke-width="0.9"/>
<line x1="92.70" y1="408.05" x2="95.50" y2="408.05" stroke="#4a4a4a" stroke-width="0.9"/>
<line x1="100.20" y1="399.58" x2="100.20" y2="404.35" stroke="#505050" stroke-width="0.9"/>
<line x1="98.80" y1="399.58" x2="101.60" y2="399.58" stroke="#4a4a4a" stroke-width="0.9"/>
<rect x="91.40" y="413.06" width="5.4" height="37.34" fill="#f8321e" stroke="#4a4a4a" stroke-width="0.6"/>
<rect x="97.10" y="404.35" width="6.2" height="46.05" fill="#a89d98" stroke="#4a4a4a" stroke-width="0.6"/>
<line x1="96.95" y1="450.40" x2="96.95" y2="453.00" stroke="#9a9a9a" stroke-width="0.7"/>
<text x="96.95" y="460.20" font-size="5.9" stroke="#111" stroke-width="0.3" text-anchor="middle" fill="#111">30</text>
<line x1="113.10" y1="406.02" x2="113.10" y2="410.67" stroke="#505050" stroke-width="0.9"/>
<line x1="111.70" y1="406.02" x2="114.50" y2="406.02" stroke="#4a4a4a" stroke-width="0.9"/>
<line x1="119.20" y1="402.68" x2="119.20" y2="406.50" stroke="#505050" stroke-width="0.9"/>
<line x1="117.80" y1="402.68" x2="120.60" y2="402.68" stroke="#4a4a4a" stroke-width="0.9"/>
<rect x="110.40" y="410.67" width="5.4" height="39.73" fill="#f8321e" stroke="#4a4a4a" stroke-width="0.6"/>
<rect x="116.10" y="406.50" width="6.2" height="43.90" fill="#a89d98" stroke="#4a4a4a" stroke-width="0.6"/>
<line x1="115.95" y1="450.40" x2="115.95" y2="453.00" stroke="#9a9a9a" stroke-width="0.7"/>
<text x="115.95" y="460.20" font-size="5.9" stroke="#111" stroke-width="0.3" text-anchor="middle" fill="#111">300</text>
<line x1="132.10" y1="401.73" x2="132.10" y2="407.09" stroke="#505050" stroke-width="0.9"/>
<line x1="130.70" y1="401.73" x2="133.50" y2="401.73" stroke="#4a4a4a" stroke-width="0.9"/>
<line x1="138.20" y1="402.20" x2="138.20" y2="406.02" stroke="#505050" stroke-width="0.9"/>
<line x1="136.80" y1="402.20" x2="139.60" y2="402.20" stroke="#4a4a4a" stroke-width="0.9"/>
<rect x="129.40" y="407.09" width="5.4" height="43.31" fill="#f8321e" stroke="#4a4a4a" stroke-width="0.6"/>
<rect x="135.10" y="406.02" width="6.2" height="44.38" fill="#a89d98" stroke="#4a4a4a" stroke-width="0.6"/>
<line x1="134.95" y1="450.40" x2="134.95" y2="453.00" stroke="#9a9a9a" stroke-width="0.7"/>
<text x="134.95" y="460.20" font-size="5.9" stroke="#111" stroke-width="0.3" text-anchor="middle" fill="#111">3000</text>
<line x1="31.00" y1="366.89" x2="31.00" y2="450.40" stroke="#9a9a9a" stroke-width="1.4"/>
<line x1="30.40" y1="450.40" x2="145.60" y2="450.40" stroke="#9a9a9a" stroke-width="1.4"/>
<line x1="28.00" y1="450.40" x2="31.00" y2="450.40" stroke="#9a9a9a" stroke-width="0.8"/>
<text x="28.00" y="452.80" font-size="6.6" font-weight="bold" text-anchor="end" fill="#111">0</text>
<line x1="28.00" y1="438.47" x2="31.00" y2="438.47" stroke="#9a9a9a" stroke-width="0.8"/>
<text x="28.00" y="440.87" font-size="6.6" font-weight="bold" text-anchor="end" fill="#111">1</text>
<line x1="28.00" y1="426.54" x2="31.00" y2="426.54" stroke="#9a9a9a" stroke-width="0.8"/>
<text x="28.00" y="428.94" font-size="6.6" font-weight="bold" text-anchor="end" fill="#111">2</text>
<line x1="28.00" y1="414.61" x2="31.00" y2="414.61" stroke="#9a9a9a" stroke-width="0.8"/>
<text x="28.00" y="417.01" font-size="6.6" font-weight="bold" text-anchor="end" fill="#111">3</text>
<line x1="28.00" y1="402.68" x2="31.00" y2="402.68" stroke="#9a9a9a" stroke-width="0.8"/>
<text x="28.00" y="405.08" font-size="6.6" font-weight="bold" text-anchor="end" fill="#111">4</text>
<line x1="28.00" y1="390.75" x2="31.00" y2="390.75" stroke="#9a9a9a" stroke-width="0.8"/>
<text x="28.00" y="393.15" font-size="6.6" font-weight="bold" text-anchor="end" fill="#111">5</text>
<line x1="28.00" y1="378.82" x2="31.00" y2="378.82" stroke="#9a9a9a" stroke-width="0.8"/>
<text x="28.00" y="381.22" font-size="6.6" font-weight="bold" text-anchor="end" fill="#111">6</text>
<line x1="28.00" y1="366.89" x2="31.00" y2="366.89" stroke="#9a9a9a" stroke-width="0.8"/>
<text x="28.00" y="369.29" font-size="6.6" font-weight="bold" text-anchor="end" fill="#111">7</text>
<text transform="translate(19.70,408.80) rotate(-90)" x="0" y="0" font-size="8.0" font-weight="bold" stroke="#111" stroke-width="0.1" text-anchor="middle" textLength="69" lengthAdjust="spacingAndGlyphs" fill="#111">SARS-CoV-2 RNA GE</text>
<text x="28.1" y="357.7" font-size="8.5" font-weight="bold" stroke="#111" stroke-width="0.1" textLength="124" lengthAdjust="spacingAndGlyphs" fill="#111">Intracellular positive-strand RNA</text>
<text x="4.7" y="357.3" font-size="17" fill="#111">g</text>
<text x="35.8" y="471.0" font-size="8.0" font-weight="bold" stroke="#111" stroke-width="0.12" textLength="104.6" lengthAdjust="spacingAndGlyphs" fill="#111">Antibody Concentration (ng/mL)</text>
</g>
<g>
<line x1="194.90" y1="414.89" x2="307.50" y2="414.89" stroke="#ff5555" stroke-width="1.1" stroke-dasharray="2.9 1.3"/>
<line x1="200.10" y1="407.41" x2="200.10" y2="410.85" stroke="#505050" stroke-width="0.9"/>
<line x1="198.70" y1="407.41" x2="201.50" y2="407.41" stroke="#4a4a4a" stroke-width="0.9"/>
<line x1="206.20" y1="408.36" x2="206.20" y2="409.90" stroke="#505050" stroke-width="0.9"/>
<line x1="204.80" y1="408.36" x2="207.60" y2="408.36" stroke="#4a4a4a" stroke-width="0.9"/>
<rect x="197.40" y="410.85" width="5.4" height="39.65" fill="#f8321e" stroke="#4a4a4a" stroke-width="0.6"/>
<rect x="203.10" y="409.90" width="6.2" height="40.60" fill="#a89d98" stroke="#4a4a4a" stroke-width="0.6"/>
<line x1="202.95" y1="450.50" x2="202.95" y2="453.10" stroke="#9a9a9a" stroke-width="0.7"/>
<text x="202.95" y="460.30" font-size="5.9" stroke="#111" stroke-width="0.3" text-anchor="middle" fill="#111">0</text>
<line x1="219.05" y1="410.14" x2="219.05" y2="413.58" stroke="#505050" stroke-width="0.9"/>
<line x1="217.65" y1="410.14" x2="220.45" y2="410.14" stroke="#4a4a4a" stroke-width="0.9"/>
<line x1="225.15" y1="407.77" x2="225.15" y2="412.40" stroke="#505050" stroke-width="0.9"/>
<line x1="223.75" y1="407.77" x2="226.55" y2="407.77" stroke="#4a4a4a" stroke-width="0.9"/>
<rect x="216.35" y="413.58" width="5.4" height="36.92" fill="#f8321e" stroke="#4a4a4a" stroke-width="0.6"/>
<rect x="222.05" y="412.40" width="6.2" height="38.10" fill="#a89d98" stroke="#4a4a4a" stroke-width="0.6"/>
<line x1="221.90" y1="450.50" x2="221.90" y2="453.10" stroke="#9a9a9a" stroke-width="0.7"/>
<text x="221.90" y="460.30" font-size="5.9" stroke="#111" stroke-width="0.3" text-anchor="middle" fill="#111">0.3</text>
<line x1="238.00" y1="419.16" x2="238.00" y2="423.67" stroke="#505050" stroke-width="0.9"/>
<line x1="236.60" y1="419.16" x2="239.40" y2="419.16" stroke="#4a4a4a" stroke-width="0.9"/>
<line x1="244.10" y1="408.01" x2="244.10" y2="408.36" stroke="#505050" stroke-width="0.9"/>
<line x1="242.70" y1="408.01" x2="245.50" y2="408.01" stroke="#4a4a4a" stroke-width="0.9"/>
<rect x="235.30" y="423.67" width="5.4" height="26.83" fill="#f8321e" stroke="#4a4a4a" stroke-width="0.6"/>
<rect x="241.00" y="408.36" width="6.2" height="42.14" fill="#a89d98" stroke="#4a4a4a" stroke-width="0.6"/>
<line x1="240.85" y1="450.50" x2="240.85" y2="453.10" stroke="#9a9a9a" stroke-width="0.7"/>
<text x="240.85" y="460.30" font-size="5.9" stroke="#111" stroke-width="0.3" text-anchor="middle" fill="#111">3</text>
<line x1="256.95" y1="419.64" x2="256.95" y2="424.50" stroke="#505050" stroke-width="0.9"/>
<line x1="255.55" y1="419.64" x2="258.35" y2="419.64" stroke="#4a4a4a" stroke-width="0.9"/>
<line x1="263.05" y1="416.79" x2="263.05" y2="420.82" stroke="#505050" stroke-width="0.9"/>
<line x1="261.65" y1="416.79" x2="264.45" y2="416.79" stroke="#4a4a4a" stroke-width="0.9"/>
<rect x="254.25" y="424.50" width="5.4" height="26.00" fill="#f8321e" stroke="#4a4a4a" stroke-width="0.6"/>
<rect x="259.95" y="420.82" width="6.2" height="29.67" fill="#a89d98" stroke="#4a4a4a" stroke-width="0.6"/>
<line x1="259.80" y1="450.50" x2="259.80" y2="453.10" stroke="#9a9a9a" stroke-width="0.7"/>
<text x="259.80" y="460.30" font-size="5.9" stroke="#111" stroke-width="0.3" text-anchor="middle" fill="#111">30</text>
<line x1="275.90" y1="425.57" x2="275.90" y2="425.93" stroke="#505050" stroke-width="0.9"/>
<line x1="274.50" y1="425.57" x2="277.30" y2="425.57" stroke="#4a4a4a" stroke-width="0.9"/>
<line x1="282.00" y1="413.94" x2="282.00" y2="417.26" stroke="#505050" stroke-width="0.9"/>
<line x1="280.60" y1="413.94" x2="283.40" y2="413.94" stroke="#4a4a4a" stroke-width="0.9"/>
<rect x="273.20" y="425.93" width="5.4" height="24.57" fill="#f8321e" stroke="#4a4a4a" stroke-width="0.6"/>
<rect x="278.90" y="417.26" width="6.2" height="33.24" fill="#a89d98" stroke="#4a4a4a" stroke-width="0.6"/>
<line x1="278.75" y1="450.50" x2="278.75" y2="453.10" stroke="#9a9a9a" stroke-width="0.7"/>
<text x="278.75" y="460.30" font-size="5.9" stroke="#111" stroke-width="0.3" text-anchor="middle" fill="#111">300</text>
<line x1="294.85" y1="416.31" x2="294.85" y2="421.42" stroke="#505050" stroke-width="0.9"/>
<line x1="293.45" y1="416.31" x2="296.25" y2="416.31" stroke="#4a4a4a" stroke-width="0.9"/>
<line x1="300.95" y1="412.99" x2="300.95" y2="416.20" stroke="#505050" stroke-width="0.9"/>
<line x1="299.55" y1="412.99" x2="302.35" y2="412.99" stroke="#4a4a4a" stroke-width="0.9"/>
<rect x="292.15" y="421.42" width="5.4" height="29.08" fill="#f8321e" stroke="#4a4a4a" stroke-width="0.6"/>
<rect x="297.85" y="416.20" width="6.2" height="34.30" fill="#a89d98" stroke="#4a4a4a" stroke-width="0.6"/>
<line x1="297.70" y1="450.50" x2="297.70" y2="453.10" stroke="#9a9a9a" stroke-width="0.7"/>
<text x="297.70" y="460.30" font-size="5.9" stroke="#111" stroke-width="0.3" text-anchor="middle" fill="#111">3000</text>
<line x1="193.90" y1="367.41" x2="193.90" y2="450.50" stroke="#9a9a9a" stroke-width="1.4"/>
<line x1="193.30" y1="450.50" x2="307.50" y2="450.50" stroke="#9a9a9a" stroke-width="1.4"/>
<line x1="190.90" y1="450.50" x2="193.90" y2="450.50" stroke="#9a9a9a" stroke-width="0.8"/>
<text x="190.90" y="452.90" font-size="6.6" font-weight="bold" text-anchor="end" fill="#111">0</text>
<line x1="190.90" y1="438.63" x2="193.90" y2="438.63" stroke="#9a9a9a" stroke-width="0.8"/>
<text x="190.90" y="441.03" font-size="6.6" font-weight="bold" text-anchor="end" fill="#111">1</text>
<line x1="190.90" y1="426.76" x2="193.90" y2="426.76" stroke="#9a9a9a" stroke-width="0.8"/>
<text x="190.90" y="429.16" font-size="6.6" font-weight="bold" text-anchor="end" fill="#111">2</text>
<line x1="190.90" y1="414.89" x2="193.90" y2="414.89" stroke="#9a9a9a" stroke-width="0.8"/>
<text x="190.90" y="417.29" font-size="6.6" font-weight="bold" text-anchor="end" fill="#111">3</text>
<line x1="190.90" y1="403.02" x2="193.90" y2="403.02" stroke="#9a9a9a" stroke-width="0.8"/>
<text x="190.90" y="405.42" font-size="6.6" font-weight="bold" text-anchor="end" fill="#111">4</text>
<line x1="190.90" y1="391.15" x2="193.90" y2="391.15" stroke="#9a9a9a" stroke-width="0.8"/>
<text x="190.90" y="393.55" font-size="6.6" font-weight="bold" text-anchor="end" fill="#111">5</text>
<line x1="190.90" y1="379.28" x2="193.90" y2="379.28" stroke="#9a9a9a" stroke-width="0.8"/>
<text x="190.90" y="381.68" font-size="6.6" font-weight="bold" text-anchor="end" fill="#111">6</text>
<line x1="190.90" y1="367.41" x2="193.90" y2="367.41" stroke="#9a9a9a" stroke-width="0.8"/>
<text x="190.90" y="369.81" font-size="6.6" font-weight="bold" text-anchor="end" fill="#111">7</text>
<text transform="translate(181.90,408.90) rotate(-90)" x="0" y="0" font-size="8.0" font-weight="bold" stroke="#111" stroke-width="0.1" text-anchor="middle" textLength="69" lengthAdjust="spacingAndGlyphs" fill="#111">SARS-CoV-2 RNA GE</text>
<text x="207.7" y="357.7" font-size="8.5" font-weight="bold" stroke="#111" stroke-width="0.1" textLength="79.7" lengthAdjust="spacingAndGlyphs" fill="#111">Negative-strand RNA</text>
<text x="165.9" y="357.6" font-size="17" fill="#111">h</text>
<text x="198.3" y="471.1" font-size="8.0" font-weight="bold" stroke="#111" stroke-width="0.12" textLength="105.89999999999999" lengthAdjust="spacingAndGlyphs" fill="#111">Antibody Concentration (ng/mL)</text>
</g>
<g>
<line x1="355.90" y1="415.33" x2="467.50" y2="415.33" stroke="#ff5555" stroke-width="1.1" stroke-dasharray="2.9 1.3"/>
<line x1="360.90" y1="415.69" x2="360.90" y2="419.77" stroke="#505050" stroke-width="0.9"/>
<line x1="359.50" y1="415.69" x2="362.30" y2="415.69" stroke="#4a4a4a" stroke-width="0.9"/>
<line x1="367.00" y1="415.09" x2="367.00" y2="418.45" stroke="#505050" stroke-width="0.9"/>
<line x1="365.60" y1="415.09" x2="368.40" y2="415.09" stroke="#4a4a4a" stroke-width="0.9"/>
<rect x="358.20" y="419.77" width="5.4" height="31.53" fill="#f8321e" stroke="#4a4a4a" stroke-width="0.6"/>
<rect x="363.90" y="418.45" width="6.2" height="32.85" fill="#a89d98" stroke="#4a4a4a" stroke-width="0.6"/>
<line x1="363.75" y1="451.30" x2="363.75" y2="453.90" stroke="#9a9a9a" stroke-width="0.7"/>
<text x="363.75" y="460.50" font-size="5.9" stroke="#111" stroke-width="0.3" text-anchor="middle" fill="#111">0</text>
<line x1="379.78" y1="415.69" x2="379.78" y2="419.53" stroke="#505050" stroke-width="0.9"/>
<line x1="378.38" y1="415.69" x2="381.18" y2="415.69" stroke="#4a4a4a" stroke-width="0.9"/>
<line x1="385.88" y1="422.76" x2="385.88" y2="425.16" stroke="#505050" stroke-width="0.9"/>
<line x1="384.48" y1="422.76" x2="387.28" y2="422.76" stroke="#4a4a4a" stroke-width="0.9"/>
<rect x="377.08" y="419.53" width="5.4" height="31.77" fill="#f8321e" stroke="#4a4a4a" stroke-width="0.6"/>
<rect x="382.78" y="425.16" width="6.2" height="26.14" fill="#a89d98" stroke="#4a4a4a" stroke-width="0.6"/>
<line x1="382.63" y1="451.30" x2="382.63" y2="453.90" stroke="#9a9a9a" stroke-width="0.7"/>
<text x="382.63" y="460.50" font-size="5.9" stroke="#111" stroke-width="0.3" text-anchor="middle" fill="#111">0.3</text>
<line x1="398.66" y1="421.92" x2="398.66" y2="425.16" stroke="#505050" stroke-width="0.9"/>
<line x1="397.26" y1="421.92" x2="400.06" y2="421.92" stroke="#4a4a4a" stroke-width="0.9"/>
<line x1="404.76" y1="410.29" x2="404.76" y2="415.09" stroke="#505050" stroke-width="0.9"/>
<line x1="403.36" y1="410.29" x2="406.16" y2="410.29" stroke="#4a4a4a" stroke-width="0.9"/>
<rect x="395.96" y="425.16" width="5.4" height="26.14" fill="#f8321e" stroke="#4a4a4a" stroke-width="0.6"/>
<rect x="401.66" y="415.09" width="6.2" height="36.21" fill="#a89d98" stroke="#4a4a4a" stroke-width="0.6"/>
<line x1="401.51" y1="451.30" x2="401.51" y2="453.90" stroke="#9a9a9a" stroke-width="0.7"/>
<text x="401.51" y="460.50" font-size="5.9" stroke="#111" stroke-width="0.3" text-anchor="middle" fill="#111">3</text>
<line x1="417.54" y1="418.93" x2="417.54" y2="423.36" stroke="#505050" stroke-width="0.9"/>
<line x1="416.14" y1="418.93" x2="418.94" y2="418.93" stroke="#4a4a4a" stroke-width="0.9"/>
<line x1="423.64" y1="423.36" x2="423.64" y2="425.64" stroke="#505050" stroke-width="0.9"/>
<line x1="422.24" y1="423.36" x2="425.04" y2="423.36" stroke="#4a4a4a" stroke-width="0.9"/>
<rect x="414.84" y="423.36" width="5.4" height="27.94" fill="#f8321e" stroke="#4a4a4a" stroke-width="0.6"/>
<rect x="420.54" y="425.64" width="6.2" height="25.66" fill="#a89d98" stroke="#4a4a4a" stroke-width="0.6"/>
<line x1="420.39" y1="451.30" x2="420.39" y2="453.90" stroke="#9a9a9a" stroke-width="0.7"/>
<text x="420.39" y="460.50" font-size="5.9" stroke="#111" stroke-width="0.3" text-anchor="middle" fill="#111">30</text>
<line x1="436.42" y1="418.33" x2="436.42" y2="420.13" stroke="#505050" stroke-width="0.9"/>
<line x1="435.02" y1="418.33" x2="437.82" y2="418.33" stroke="#4a4a4a" stroke-width="0.9"/>
<line x1="442.52" y1="420.13" x2="442.52" y2="423.96" stroke="#505050" stroke-width="0.9"/>
<line x1="441.12" y1="420.13" x2="443.92" y2="420.13" stroke="#4a4a4a" stroke-width="0.9"/>
<rect x="433.72" y="420.13" width="5.4" height="31.17" fill="#f8321e" stroke="#4a4a4a" stroke-width="0.6"/>
<rect x="439.42" y="423.96" width="6.2" height="27.34" fill="#a89d98" stroke="#4a4a4a" stroke-width="0.6"/>
<line x1="439.27" y1="451.30" x2="439.27" y2="453.90" stroke="#9a9a9a" stroke-width="0.7"/>
<text x="439.27" y="460.50" font-size="5.9" stroke="#111" stroke-width="0.3" text-anchor="middle" fill="#111">300</text>
<line x1="455.30" y1="416.41" x2="455.30" y2="419.53" stroke="#505050" stroke-width="0.9"/>
<line x1="453.90" y1="416.41" x2="456.70" y2="416.41" stroke="#4a4a4a" stroke-width="0.9"/>
<line x1="461.40" y1="418.45" x2="461.40" y2="421.92" stroke="#505050" stroke-width="0.9"/>
<line x1="460.00" y1="418.45" x2="462.80" y2="418.45" stroke="#4a4a4a" stroke-width="0.9"/>
<rect x="452.60" y="419.53" width="5.4" height="31.77" fill="#f8321e" stroke="#4a4a4a" stroke-width="0.6"/>
<rect x="458.30" y="421.92" width="6.2" height="29.38" fill="#a89d98" stroke="#4a4a4a" stroke-width="0.6"/>
<line x1="458.15" y1="451.30" x2="458.15" y2="453.90" stroke="#9a9a9a" stroke-width="0.7"/>
<text x="458.15" y="460.50" font-size="5.9" stroke="#111" stroke-width="0.3" text-anchor="middle" fill="#111">3000</text>
<line x1="354.90" y1="367.37" x2="354.90" y2="451.30" stroke="#9a9a9a" stroke-width="1.4"/>
<line x1="354.30" y1="451.30" x2="467.50" y2="451.30" stroke="#9a9a9a" stroke-width="1.4"/>
<line x1="351.90" y1="451.30" x2="354.90" y2="451.30" stroke="#9a9a9a" stroke-width="0.8"/>
<text x="351.90" y="453.70" font-size="6.6" font-weight="bold" text-anchor="end" fill="#111">0</text>
<line x1="351.90" y1="439.31" x2="354.90" y2="439.31" stroke="#9a9a9a" stroke-width="0.8"/>
<text x="351.90" y="441.71" font-size="6.6" font-weight="bold" text-anchor="end" fill="#111">1</text>
<line x1="351.90" y1="427.32" x2="354.90" y2="427.32" stroke="#9a9a9a" stroke-width="0.8"/>
<text x="351.90" y="429.72" font-size="6.6" font-weight="bold" text-anchor="end" fill="#111">2</text>
<line x1="351.90" y1="415.33" x2="354.90" y2="415.33" stroke="#9a9a9a" stroke-width="0.8"/>
<text x="351.90" y="417.73" font-size="6.6" font-weight="bold" text-anchor="end" fill="#111">3</text>
<line x1="351.90" y1="403.34" x2="354.90" y2="403.34" stroke="#9a9a9a" stroke-width="0.8"/>
<text x="351.90" y="405.74" font-size="6.6" font-weight="bold" text-anchor="end" fill="#111">4</text>
<line x1="351.90" y1="391.35" x2="354.90" y2="391.35" stroke="#9a9a9a" stroke-width="0.8"/>
<text x="351.90" y="393.75" font-size="6.6" font-weight="bold" text-anchor="end" fill="#111">5</text>
<line x1="351.90" y1="379.36" x2="354.90" y2="379.36" stroke="#9a9a9a" stroke-width="0.8"/>
<text x="351.90" y="381.76" font-size="6.6" font-weight="bold" text-anchor="end" fill="#111">6</text>
<line x1="351.90" y1="367.37" x2="354.90" y2="367.37" stroke="#9a9a9a" stroke-width="0.8"/>
<text x="351.90" y="369.77" font-size="6.6" font-weight="bold" text-anchor="end" fill="#111">7</text>
<text transform="translate(342.90,409.70) rotate(-90)" x="0" y="0" font-size="8.0" font-weight="bold" stroke="#111" stroke-width="0.1" text-anchor="middle" textLength="69" lengthAdjust="spacingAndGlyphs" fill="#111">SARS-CoV-2 RNA GE</text>
<text x="375.5" y="358.0" font-size="9.2" stroke="#111" stroke-width="0.5" textLength="67.4" lengthAdjust="spacingAndGlyphs" fill="#111">Extracellular RNA</text>
<text x="333.3" y="356.4" font-size="17" fill="#111">i</text>
<text x="359.1" y="471.5" font-size="8.0" font-weight="bold" stroke="#111" stroke-width="0.12" textLength="104.7" lengthAdjust="spacingAndGlyphs" fill="#111">Antibody Concentration (ng/mL)</text>
</g>
<text x="239" y="17" font-size="16.3" textLength="28" lengthAdjust="spacingAndGlyphs" fill="#111">Raji</text>
<text x="229.8" y="184.8" font-size="16.3" textLength="41.6" lengthAdjust="spacingAndGlyphs" fill="#111">THP1</text>
<text x="210.5" y="344.1" font-size="16.8" textLength="93.5" lengthAdjust="spacingAndGlyphs" fill="#111">Macrophage</text>
<rect x="484.10" y="28.70" width="9.6" height="4.8" fill="#f8321e" stroke="#4a4a4a" stroke-width="0.6"/>
<rect x="484.50" y="39.90" width="9.4" height="5.0" fill="#a89d98" stroke="#4a4a4a" stroke-width="0.6"/>
<line x1="482.80" y1="55.60" x2="498.40" y2="55.60" stroke="#ff5555" stroke-width="1.2" stroke-dasharray="2.8 1.2"/>
<text x="498.70" y="33.80" font-size="8.2" stroke="#111" stroke-width="0.12" textLength="43.3" lengthAdjust="spacingAndGlyphs" fill="#111">Bamlanivimab</text>
<text x="499.80" y="44.70" font-size="8.2" stroke="#111" stroke-width="0.12" textLength="37.8" lengthAdjust="spacingAndGlyphs" fill="#111">IgG1 isotype</text>
<text x="504.90" y="57.50" font-size="8.2" stroke="#111" stroke-width="0.12" textLength="18.1" lengthAdjust="spacingAndGlyphs" fill="#111">LLOQ</text>
<rect x="484.10" y="196.80" width="9.6" height="4.8" fill="#f8321e" stroke="#4a4a4a" stroke-width="0.6"/>
<rect x="484.50" y="208.00" width="9.4" height="5.0" fill="#a89d98" stroke="#4a4a4a" stroke-width="0.6"/>
<line x1="482.80" y1="223.70" x2="498.40" y2="223.70" stroke="#ff5555" stroke-width="1.2" stroke-dasharray="2.8 1.2"/>
<text x="498.70" y="201.90" font-size="8.2" stroke="#111" stroke-width="0.12" textLength="43.3" lengthAdjust="spacingAndGlyphs" fill="#111">Bamlanivimab</text>
<text x="499.80" y="212.80" font-size="8.2" stroke="#111" stroke-width="0.12" textLength="37.8" lengthAdjust="spacingAndGlyphs" fill="#111">IgG1 isotype</text>
<text x="504.90" y="225.60" font-size="8.2" stroke="#111" stroke-width="0.12" textLength="18.1" lengthAdjust="spacingAndGlyphs" fill="#111">LLOQ</text>
<rect x="485.30" y="372.50" width="9.6" height="4.8" fill="#f8321e" stroke="#4a4a4a" stroke-width="0.6"/>
<rect x="485.70" y="383.70" width="9.4" height="5.0" fill="#a89d98" stroke="#4a4a4a" stroke-width="0.6"/>
<line x1="484.00" y1="399.40" x2="499.60" y2="399.40" stroke="#ff5555" stroke-width="1.2" stroke-dasharray="2.8 1.2"/>
<text x="499.90" y="377.60" font-size="8.2" stroke="#111" stroke-width="0.12" textLength="43.3" lengthAdjust="spacingAndGlyphs" fill="#111">Bamlanivimab</text>
<text x="501.00" y="388.50" font-size="8.2" stroke="#111" stroke-width="0.12" textLength="37.8" lengthAdjust="spacingAndGlyphs" fill="#111">IgG1 isotype</text>
<text x="506.10" y="401.30" font-size="8.2" stroke="#111" stroke-width="0.12" textLength="18.1" lengthAdjust="spacingAndGlyphs" fill="#111">LLOQ</text>
</svg>
</body></html>
